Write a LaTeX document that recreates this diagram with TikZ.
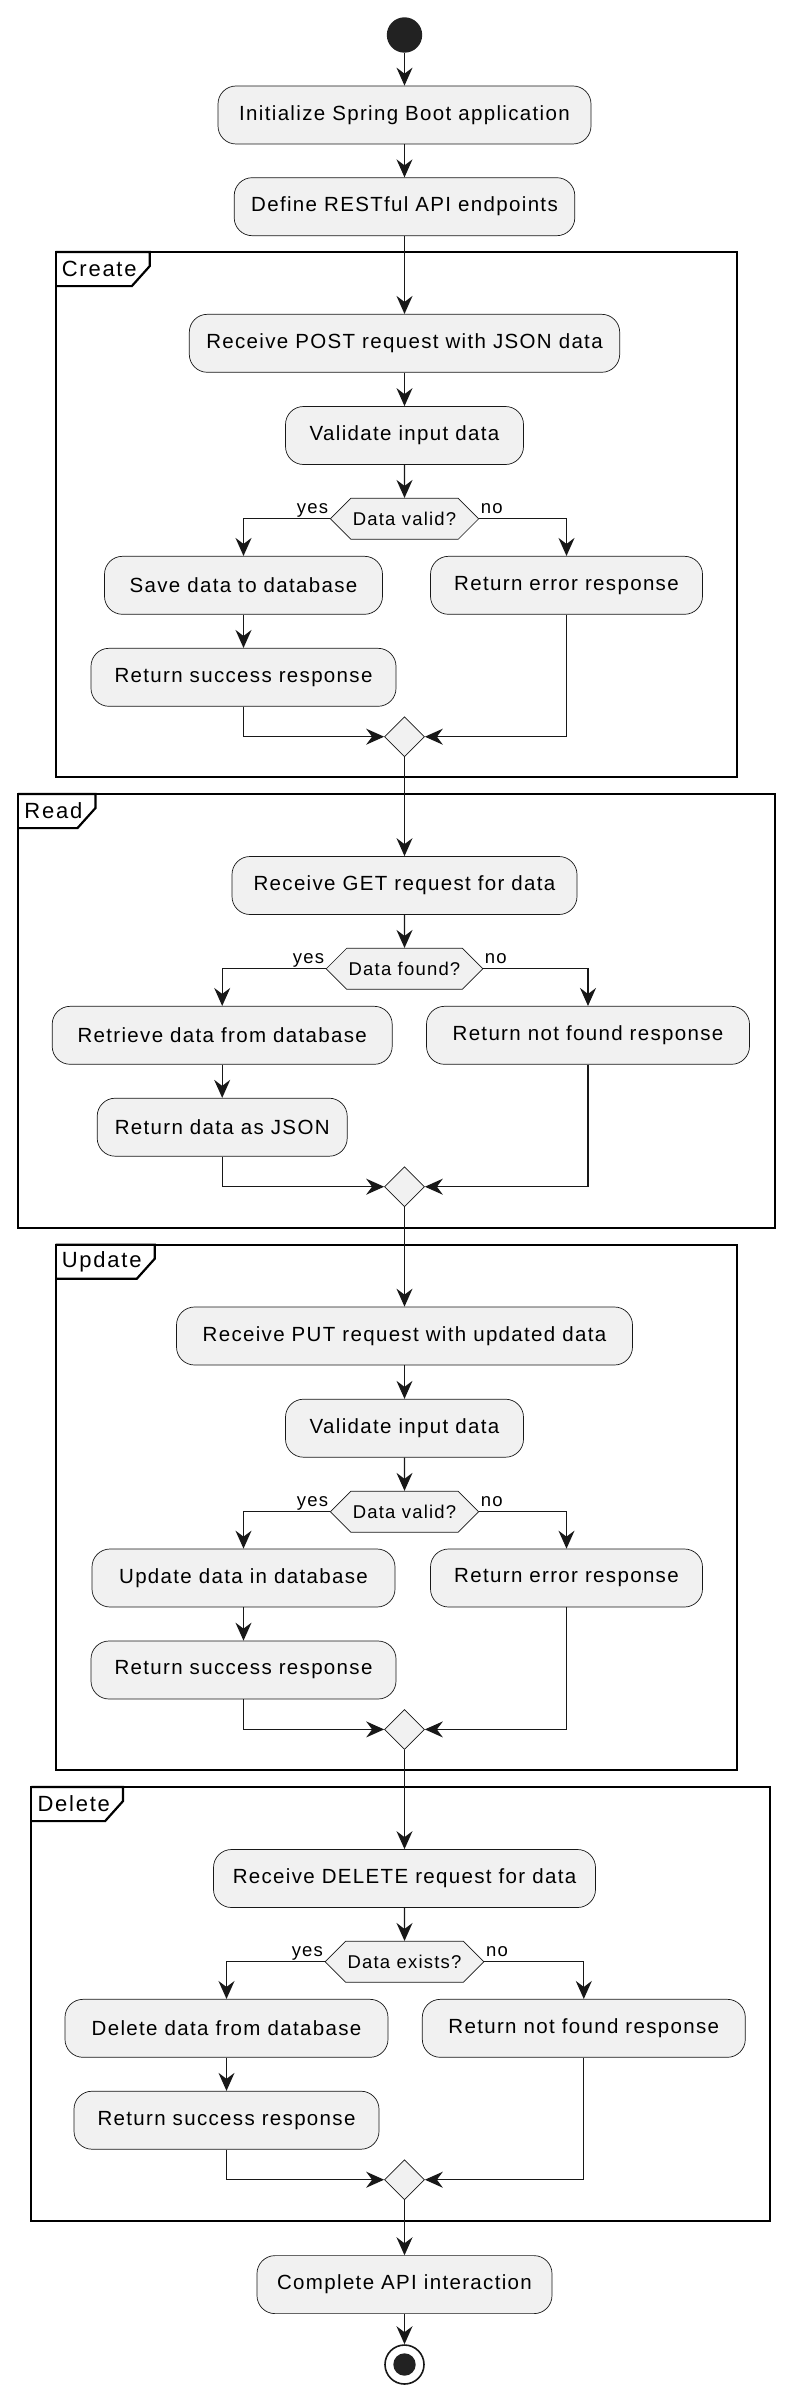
\documentclass[tikz,border=0pt]{standalone}
\usepackage{fontspec}
\setmainfont{Liberation Sans}[LetterSpace=6.5]
\usetikzlibrary{arrows.meta, positioning, shapes.geometric, shapes.symbols, calc}
\definecolor{actfill}{HTML}{F1F1F1}
\definecolor{actline}{HTML}{181818}
\definecolor{dotfill}{HTML}{222222}

\tikzset{
  act/.style={draw=actline, fill=actfill, line width=0.7pt, rounded corners=18pt,
    minimum height=58pt, minimum width=#1, inner xsep=17pt, font=\fontsize{20.5}{24}\selectfont},
  act/.default=0pt,
  cond/.style={draw=actline, fill=actfill, line width=0.7pt, signal, signal to=west and east,
    signal pointer angle=90, minimum height=41pt, inner xsep=2pt, inner ysep=0pt,
    font=\fontsize{18.5}{22}\selectfont},
  merge/.style={draw=actline, fill=actfill, line width=0.7pt, diamond,
    minimum width=40pt, minimum height=40pt, inner sep=0pt},
  guard/.style={font=\fontsize{18.5}{22}\selectfont, inner sep=1pt},
  flow/.style={draw=actline, line width=1.3pt},
  grp/.style={draw=black, line width=2.2pt},
  grptab/.style={anchor=north west, minimum height=33.7pt, inner xsep=6pt, inner ysep=0pt,
    font=\fontsize{22}{26}\selectfont\addfontfeature{LetterSpace=8}}
}
% group label with cut corner
\newcommand{\grouptab}[3]{%
  \node[grptab] (#1) at (#2) {#3};
  \draw[grp] (#1.north west) -- ([xshift=7pt]#1.north east) -- ++(0,14)
    -- ([xshift=-11pt]#1.south east) -- (#1.south west);
}

\begin{document}
\begin{tikzpicture}[>={Stealth[length=18pt, width=16pt, inset=6pt]}, x=1pt, y=-1pt]
  \useasboundingbox (0,0) rectangle (793,2400);

  % Groups
  \draw[grp] (55.6,252) rectangle (737.1,777.3);
  \grouptab{tcreate}{55.6,252}{Create}
  \draw[grp] (18.2,794) rectangle (775,1227.7);
  \grouptab{tread}{18.2,794}{Read}
  \draw[grp] (55.6,1244.7) rectangle (737.1,1770);
  \grouptab{tupdate}{55.6,1244.7}{Update}
  \draw[grp] (31.3,1787) rectangle (769.7,2220.7);
  \grouptab{tdelete}{31.3,1787}{Delete}

  % Start
  \node[circle, fill=dotfill, minimum size=35.4pt, inner sep=0pt] (start) at (404.5,35) {};
  \node[act=373pt] (init) at (404.5,115) {Initialize Spring Boot application};
  \node[act=340pt] (define) at (404.5,206.7) {Define RESTful API endpoints};

  % Create
  \node[act=429pt] (post) at (404.5,343.3) {Receive POST request with JSON data};
  \node[act=238pt] (val1) at (404.5,435.5) {Validate input data};
  \node[cond] (chk1) at (404.5,518.8) {Data valid?};
  \node[act=278pt] (save) at (243.5,585.3) {Save data to database};
  \node[act=272pt] (err1) at (566.5,585.3) {Return error response};
  \node[act=305pt] (ok1) at (243.5,677.3) {Return success response};
  \node[merge] (m1) at (404.5,736.7) {};

  % Read
  \node[act=345pt] (get) at (404.5,885.5) {Receive GET request for data};
  \node[cond] (chk2) at (404.5,968.8) {Data found?};
  \node[act=340pt] (fetch) at (222.2,1035.3) {Retrieve data from database};
  \node[act=323pt] (nf1) at (588,1035.3) {Return not found response};
  \node[act=250pt] (json) at (222.2,1127.2) {Return data as JSON};
  \node[merge] (m2) at (404.5,1186.7) {};

  % Update
  \node[act=456pt] (put) at (404.5,1336) {Receive PUT request with updated data};
  \node[act=238pt] (val2) at (404.5,1428.2) {Validate input data};
  \node[cond] (chk3) at (404.5,1511.7) {Data valid?};
  \node[act=303pt] (upd) at (243.5,1578) {Update data in database};
  \node[act=272pt] (err2) at (566.5,1578) {Return error response};
  \node[act=305pt] (ok2) at (243.5,1670) {Return success response};
  \node[merge] (m3) at (404.5,1729.4) {};

  % Delete
  \node[act=382pt] (del) at (404.5,1878.5) {Receive DELETE request for data};
  \node[cond] (chk4) at (404.5,1961.8) {Data exists?};
  \node[act=323pt] (rm) at (226.5,2028.3) {Delete data from database};
  \node[act=323pt] (nf2) at (583.8,2028.3) {Return not found response};
  \node[act=305pt] (ok3) at (226.5,2120.2) {Return success response};
  \node[merge] (m4) at (404.5,2179.7) {};

  % End
  \node[act=295pt] (done) at (404.5,2284.6) {Complete API interaction};
  \node[circle, draw=actline, line width=1.6pt, fill=white, minimum size=39pt, inner sep=0pt] (stop) at (404.5,2364.5) {};
  \node[circle, fill=dotfill, minimum size=22.4pt, inner sep=0pt] (stopdot) at (stop) {};

  % Flow
  \draw[flow, ->] (start) -- (init);
  \draw[flow, ->] (init) -- (define);
  \draw[flow, ->] (define) -- (post);
  \draw[flow, ->] (post) -- (val1);
  \draw[flow, ->] (val1) -- (chk1);
  \draw[flow, ->] (chk1.west) -| (save.north) node[pos=0, guard, anchor=base east, yshift=5pt] {yes};
  \draw[flow, ->] (chk1.east) -| (err1.north) node[pos=0, guard, anchor=base west, yshift=5pt] {no};
  \draw[flow, ->] (save) -- (ok1);
  \draw[flow, ->] (ok1.south) |- (m1.west);
  \draw[flow, ->] (err1.south) |- (m1.east);
  \draw[flow, ->] (m1) -- (get);

  \draw[flow, ->] (get) -- (chk2);
  \draw[flow, ->] (chk2.west) -| (fetch.north) node[pos=0, guard, anchor=base east, yshift=5pt] {yes};
  \draw[flow, ->] (chk2.east) -| (nf1.north) node[pos=0, guard, anchor=base west, yshift=5pt] {no};
  \draw[flow, ->] (fetch) -- (json);
  \draw[flow, ->] (json.south) |- (m2.west);
  \draw[flow, ->] (nf1.south) |- (m2.east);
  \draw[flow, ->] (m2) -- (put);

  \draw[flow, ->] (put) -- (val2);
  \draw[flow, ->] (val2) -- (chk3);
  \draw[flow, ->] (chk3.west) -| (upd.north) node[pos=0, guard, anchor=base east, yshift=5pt] {yes};
  \draw[flow, ->] (chk3.east) -| (err2.north) node[pos=0, guard, anchor=base west, yshift=5pt] {no};
  \draw[flow, ->] (upd) -- (ok2);
  \draw[flow, ->] (ok2.south) |- (m3.west);
  \draw[flow, ->] (err2.south) |- (m3.east);
  \draw[flow, ->] (m3) -- (del);

  \draw[flow, ->] (del) -- (chk4);
  \draw[flow, ->] (chk4.west) -| (rm.north) node[pos=0, guard, anchor=base east, yshift=5pt] {yes};
  \draw[flow, ->] (chk4.east) -| (nf2.north) node[pos=0, guard, anchor=base west, yshift=5pt] {no};
  \draw[flow, ->] (rm) -- (ok3);
  \draw[flow, ->] (ok3.south) |- (m4.west);
  \draw[flow, ->] (nf2.south) |- (m4.east);
  \draw[flow, ->] (m4) -- (done);
  \draw[flow, ->] (done) -- (stop);
\end{tikzpicture}
\end{document}
